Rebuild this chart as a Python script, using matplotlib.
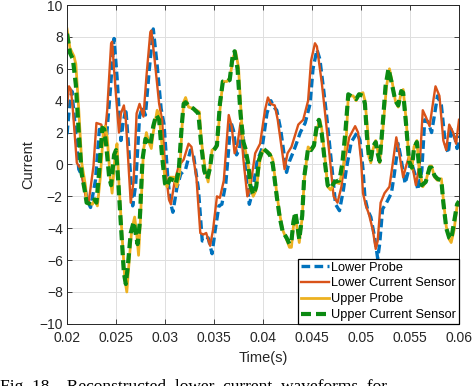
import matplotlib
matplotlib.use("Agg")
import matplotlib.pyplot as plt

# --- data (time in s, current) ---

t_lower_probe = [0.0200, 0.0203, 0.0205, 0.0208, 0.0212, 0.0216, 0.0221, 0.0224, 0.0229, 0.0233,
                 0.0237, 0.0240, 0.0244, 0.0248, 0.0251, 0.0255, 0.0257, 0.0260, 0.0263, 0.0267,
                 0.0270, 0.0274, 0.0277, 0.0280, 0.0284, 0.0288, 0.0292, 0.0296, 0.0299, 0.0303,
                 0.0306, 0.0308, 0.0312, 0.0316, 0.0321, 0.0326, 0.0329, 0.0334, 0.0338, 0.0341,
                 0.0344, 0.0348, 0.0351, 0.0355, 0.0358, 0.0362, 0.0365, 0.0367, 0.0370, 0.0373,
                 0.0376, 0.0379, 0.0382, 0.0386, 0.0389, 0.0394, 0.0399, 0.0404, 0.0408, 0.0411,
                 0.0414, 0.0418, 0.0424, 0.0427, 0.0431, 0.0434, 0.0438, 0.0443, 0.0448, 0.0451,
                 0.0455, 0.0458, 0.0462, 0.0465, 0.0470, 0.0474, 0.0478, 0.0482, 0.0485, 0.0490,
                 0.0496, 0.0499, 0.0502, 0.0504, 0.0507, 0.0510, 0.0514, 0.0517, 0.0519, 0.0522,
                 0.0526, 0.0531, 0.0534, 0.0538, 0.0541, 0.0545, 0.0548, 0.0551, 0.0555, 0.0558,
                 0.0562, 0.0565, 0.0568, 0.0572, 0.0576, 0.0578, 0.0582, 0.0586, 0.0589, 0.0592,
                 0.0596, 0.0598, 0.0600]
lower_probe = [1.9, 4.0, 4.6, 2.6, -0.3, -0.8, -2.3, -2.7, -1.0, 2.2,
               2.0, 1.5, 4.5, 7.9, 5.5, 1.5, 2.5, 3.5, 1.0, -2.6,
               -1.3, 3.0, 3.6, 3.1, 6.0, 8.5, 6.2, 3.5, 2.5, -1.0,
               -2.5, -3.0, -1.5, -0.6, -0.3, 0.9, 0.6, -1.5, -4.8, -4.8,
               -4.6, -5.6, -4.2, -2.6, -2.5, -1.2, 1.0, 2.7, 2.1, 0.6,
               1.0, 2.2, -0.3, -2.5, -1.8, 0.2, 1.0, 3.2, 4.0, 3.6,
               3.4, 2.2, -0.5, 0.2, 0.8, 1.3, 2.0, 2.6, 3.8, 6.0,
               7.2, 6.6, 4.6, 3.0, 0.0, -2.5, -2.9, -1.6, -0.3, 1.4,
               2.0, 1.5, -0.3, -2.1, -2.9, -3.3, -4.6, -5.9, -5.0, -2.8,
               -2.4, -1.8, -0.6, 1.3, 0.3, -1.2, -0.5, 0.2, -0.6, -1.6,
               -0.4, 2.8, 2.7, 2.0, 3.5, 4.3, 3.7, 1.3, 0.7, 2.2,
               1.6, 1.0, 1.8]

t_lower_sensor = [0.0200, 0.0202, 0.0204, 0.0206, 0.0210, 0.0214, 0.0219, 0.0222, 0.0227, 0.0230,
                  0.0235, 0.0238, 0.0241, 0.0245, 0.0246, 0.0249, 0.0253, 0.0255, 0.0258, 0.0260,
                  0.0265, 0.0268, 0.0271, 0.0274, 0.0278, 0.0281, 0.0285, 0.0286, 0.0289, 0.0294,
                  0.0297, 0.0300, 0.0304, 0.0306, 0.0310, 0.0314, 0.0319, 0.0324, 0.0327, 0.0332,
                  0.0336, 0.0339, 0.0342, 0.0346, 0.0349, 0.0353, 0.0356, 0.0360, 0.0363, 0.0365,
                  0.0368, 0.0371, 0.0374, 0.0377, 0.0380, 0.0384, 0.0387, 0.0392, 0.0397, 0.0402,
                  0.0405, 0.0408, 0.0412, 0.0415, 0.0422, 0.0425, 0.0429, 0.0432, 0.0436, 0.0441,
                  0.0446, 0.0449, 0.0453, 0.0455, 0.0460, 0.0463, 0.0468, 0.0472, 0.0476, 0.0480,
                  0.0483, 0.0488, 0.0494, 0.0497, 0.0500, 0.0502, 0.0505, 0.0508, 0.0512, 0.0515,
                  0.0517, 0.0520, 0.0524, 0.0529, 0.0532, 0.0536, 0.0539, 0.0543, 0.0546, 0.0549,
                  0.0553, 0.0556, 0.0560, 0.0563, 0.0566, 0.0570, 0.0574, 0.0576, 0.0580, 0.0584,
                  0.0587, 0.0590, 0.0594, 0.0597, 0.0600]
lower_sensor = [3.6, 4.9, 4.7, 3.4, 0.1, -0.3, -2.0, -2.4, -0.1, 2.6,
                2.5, 1.5, 3.4, 7.6, 7.7, 5.1, 2.0, 3.2, 3.7, 2.8,
                -2.4, -1.0, 3.2, 3.8, 3.0, 5.5, 8.3, 8.4, 6.8, 3.8,
                2.8, -0.1, -2.2, -2.5, -1.0, -0.1, 0.3, 1.3, 1.1, -0.8,
                -4.3, -4.4, -4.3, -5.1, -4.1, -2.0, -2.1, -1.0, 1.5, 3.1,
                2.4, 0.7, 1.3, 2.6, 0.3, -2.0, -1.4, 0.7, 1.3, 3.4,
                4.2, 3.8, 3.7, 2.8, -0.3, 0.7, 1.1, 1.7, 2.5, 2.8,
                4.0, 6.5, 7.6, 7.4, 5.1, 3.4, 0.5, -2.0, -2.4, -1.4,
                0.1, 1.7, 2.4, 2.0, 0.3, -1.8, -2.6, -3.1, -4.1, -5.3,
                -4.8, -2.4, -1.8, -1.4, -0.1, 1.7, 0.7, -0.8, -0.1, 0.5,
                -0.3, -1.3, 0.1, 3.4, 3.0, 2.4, 4.1, 4.9, 4.3, 1.5,
                0.9, 2.5, 2.0, 1.3, 2.8]

t_upper_probe = [0.0200, 0.0203, 0.0207, 0.0209, 0.0212, 0.0215, 0.0219, 0.0220, 0.0226, 0.0228,
                 0.0231, 0.0234, 0.0237, 0.0239, 0.0241, 0.0244, 0.0246, 0.0249, 0.0251, 0.0253,
                 0.0256, 0.0259, 0.0261, 0.0263, 0.0266, 0.0269, 0.0271, 0.0273, 0.0275, 0.0278,
                 0.0281, 0.0283, 0.0286, 0.0288, 0.0292, 0.0294, 0.0297, 0.0300, 0.0302, 0.0305,
                 0.0309, 0.0312, 0.0315, 0.0317, 0.0319, 0.0321, 0.0324, 0.0329, 0.0335, 0.0337,
                 0.0341, 0.0344, 0.0346, 0.0348, 0.0351, 0.0353, 0.0356, 0.0359, 0.0363, 0.0366,
                 0.0370, 0.0372, 0.0375, 0.0378, 0.0380, 0.0382, 0.0385, 0.0387, 0.0390, 0.0393,
                 0.0397, 0.0400, 0.0404, 0.0407, 0.0410, 0.0414, 0.0417, 0.0420, 0.0424, 0.0427,
                 0.0429, 0.0431, 0.0433, 0.0436, 0.0437, 0.0440, 0.0442, 0.0446, 0.0449, 0.0452,
                 0.0455, 0.0458, 0.0460, 0.0463, 0.0466, 0.0469, 0.0473, 0.0478, 0.0482, 0.0485,
                 0.0487, 0.0492, 0.0495, 0.0498, 0.0502, 0.0504, 0.0507, 0.0508, 0.0510, 0.0512,
                 0.0515, 0.0517, 0.0519, 0.0522, 0.0526, 0.0529, 0.0532, 0.0535, 0.0538, 0.0541,
                 0.0543, 0.0546, 0.0549, 0.0552, 0.0554, 0.0557, 0.0559, 0.0563, 0.0566, 0.0570,
                 0.0572, 0.0575, 0.0578, 0.0582, 0.0584, 0.0587, 0.0590, 0.0592, 0.0595, 0.0598,
                 0.0600]
upper_probe = [8.5, 7.3, 6.8, 6.3, 3.4, 0.1, -1.4, -2.4, -2.5, -2.2,
               -2.6, -0.8, 2.0, 2.4, 1.7, -0.8, -1.8, 0.5, 1.3, -1.2,
               -4.3, -7.2, -8.0, -6.4, -4.1, -3.3, -4.3, -5.7, -3.3, 0.9,
               2.0, 1.5, 1.0, 2.0, 3.4, 3.1, 1.1, -1.0, -1.4, -0.8,
               -0.8, -1.4, -0.6, 2.0, 3.9, 4.2, 3.6, 3.5, 3.3, 1.5,
               -0.3, -1.1, -0.1, 0.9, 1.0, 1.1, 3.4, 5.2, 5.2, 5.4,
               6.8, 7.1, 6.1, 2.8, 1.3, 0.9, -0.1, -1.4, -2.0, -1.6,
               0.3, 0.9, 0.8, 0.7, 0.3, -1.8, -3.1, -4.1, -4.7, -5.2,
               -5.2, -3.9, -3.3, -4.5, -4.9, -3.3, -1.0, 1.1, 0.9, 1.1,
               2.2, 2.8, 2.2, 0.5, -1.4, -1.6, -1.1, -1.2, -0.1, 1.7,
               4.3, 4.3, 4.0, 4.4, 4.5, 4.0, 2.0, 0.5, 0.1, 0.9,
               1.5, 0.9, 0.1, 2.0, 4.9, 6.0, 5.1, 4.0, 3.6, 4.5,
               4.7, 2.8, 0.3, -0.3, 1.1, 1.5, -0.1, -1.4, -1.1, -0.1,
               -0.1, -0.8, -1.0, -0.9, -2.2, -3.9, -4.7, -4.9, -4.1, -2.6,
               -2.4]

t_upper_sensor = [0.0200, 0.0203, 0.0206, 0.0209, 0.0212, 0.0215, 0.0218, 0.0220, 0.0225, 0.0228,
                  0.0230, 0.0233, 0.0236, 0.0238, 0.0240, 0.0243, 0.0245, 0.0248, 0.0250, 0.0252,
                  0.0255, 0.0258, 0.0260, 0.0262, 0.0265, 0.0268, 0.0270, 0.0272, 0.0274, 0.0277,
                  0.0280, 0.0283, 0.0285, 0.0288, 0.0291, 0.0294, 0.0297, 0.0300, 0.0302, 0.0305,
                  0.0309, 0.0311, 0.0314, 0.0317, 0.0319, 0.0321, 0.0324, 0.0329, 0.0334, 0.0337,
                  0.0340, 0.0343, 0.0346, 0.0348, 0.0351, 0.0353, 0.0356, 0.0359, 0.0363, 0.0366,
                  0.0369, 0.0371, 0.0374, 0.0377, 0.0380, 0.0382, 0.0385, 0.0387, 0.0390, 0.0393,
                  0.0396, 0.0400, 0.0404, 0.0407, 0.0410, 0.0414, 0.0417, 0.0420, 0.0424, 0.0427,
                  0.0429, 0.0431, 0.0433, 0.0435, 0.0437, 0.0440, 0.0442, 0.0446, 0.0449, 0.0452,
                  0.0455, 0.0457, 0.0460, 0.0463, 0.0466, 0.0469, 0.0473, 0.0478, 0.0481, 0.0484,
                  0.0487, 0.0492, 0.0495, 0.0498, 0.0502, 0.0504, 0.0506, 0.0508, 0.0510, 0.0512,
                  0.0515, 0.0517, 0.0519, 0.0522, 0.0525, 0.0528, 0.0531, 0.0535, 0.0538, 0.0541,
                  0.0543, 0.0546, 0.0549, 0.0552, 0.0554, 0.0557, 0.0559, 0.0562, 0.0566, 0.0570,
                  0.0572, 0.0575, 0.0578, 0.0582, 0.0584, 0.0587, 0.0590, 0.0592, 0.0595, 0.0598,
                  0.0600]
upper_sensor = [8.2, 7.0, 6.6, 5.0, 2.0, -0.6, -1.6, -2.4, -2.5, -2.2,
                -2.4, -0.3, 2.3, 2.2, 1.2, -0.8, -1.3, 0.6, 0.9, -0.8,
                -3.8, -6.8, -7.5, -6.4, -4.3, -3.6, -4.3, -5.0, -3.8, 0.3,
                1.6, 1.4, 1.2, 2.4, 3.1, 2.8, 0.5, -1.2, -1.4, -0.9,
                -1.0, -1.2, -0.4, 2.4, 3.8, 3.9, 3.7, 3.5, 3.2, 1.2,
                -0.4, -0.9, -0.2, 0.8, 1.0, 1.2, 3.8, 5.2, 5.2, 5.3,
                6.8, 7.1, 6.0, 3.2, 1.4, 1.0, 0.0, -1.3, -1.9, -1.4,
                0.3, 1.0, 0.8, 0.6, 0.0, -2.0, -3.3, -4.2, -4.6, -5.0,
                -4.8, -3.6, -3.0, -3.8, -4.7, -3.2, -0.8, 1.0, 0.9, 1.2,
                2.5, 2.8, 1.9, 0.2, -1.3, -1.5, -1.1, -1.0, 0.1, 2.0,
                4.4, 4.2, 4.1, 4.4, 4.3, 3.8, 1.8, 0.5, 0.3, 1.1,
                1.4, 0.7, 0.2, 2.4, 4.9, 6.0, 5.2, 4.0, 3.7, 4.6,
                4.5, 2.5, 0.2, -0.2, 1.0, 1.4, 0.0, -1.3, -1.1, -0.2,
                -0.2, -0.7, -0.9, -1.0, -2.4, -4.0, -4.6, -4.7, -3.6, -2.5,
                -2.3]

x_ticks = [0.02, 0.025, 0.03, 0.035, 0.04, 0.045, 0.05, 0.055, 0.06]
x_ticklabels = ["0.02", "0.025", "0.03", "0.035", "0.04", "0.045", "0.05", "0.055", "0.06"]
y_ticks = list(range(-10, 11, 2))

# MATLAB default colours
c_blue = "#0072BD"
c_orange = "#D95319"
c_yellow = "#EDB120"
c_green = "#0B8A12"


def main():
    plt.rcParams["font.family"] = ["Liberation Sans", "DejaVu Sans"]
    plt.rcParams["font.size"] = 10

    fig = plt.figure(figsize=(4.74, 3.86), dpi=100)
    ax = fig.add_axes([0.1414, 0.161, 0.827, 0.826])

    # same drawing order as the legend
    ax.plot(t_lower_probe, lower_probe, color=c_blue, lw=2.4, dashes=(2.6, 1.3),
            label="Lower Probe")
    ax.plot(t_lower_sensor, lower_sensor, color=c_orange, lw=1.7,
            label="Lower Current Sensor")
    ax.plot(t_upper_probe, upper_probe, color=c_yellow, lw=2.0,
            label="Upper Probe")
    ax.plot(t_upper_sensor, upper_sensor, color=c_green, lw=3.0, dashes=(2.4, 1.2),
            label="Upper Current Sensor")

    ax.set_xlim(0.02, 0.06)
    ax.set_ylim(-10, 10)
    ax.set_xticks(x_ticks)
    ax.set_xticklabels(x_ticklabels)
    ax.set_yticks(y_ticks)

    ax.grid(True, color="#dedede", lw=0.7)
    ax.set_axisbelow(True)
    ax.tick_params(direction="in", length=3.5, width=0.6, top=True, right=True,
                   colors="#262626", labelcolor="#262626")
    ax.tick_params(axis="x", pad=5.5)
    ax.tick_params(axis="y", pad=3)
    for sp in ax.spines.values():
        sp.set_color("#262626")
        sp.set_linewidth(0.7)

    ax.set_xlabel("Time(s)", labelpad=4, color="#262626", fontsize=10.5)
    ax.set_ylabel("Current", labelpad=3, color="#262626", fontsize=10.5)

    leg = ax.legend(loc="lower right", borderaxespad=0, fancybox=False, framealpha=1,
                    edgecolor="black", handlelength=2.2, handletextpad=0.15,
                    labelspacing=0.3, borderpad=0.22, fontsize=9.2)
    leg.get_frame().set_linewidth(0.9)

    # caption of the page, cut off by the picture border
    fig.text(0.0, -0.012, "Fig. 18.   Reconstructed  lower  current  waveforms  for",
             family=["Liberation Serif", "DejaVu Serif"], fontsize=12.5, va="baseline")

    fig.savefig("out.png", dpi=100)


if __name__ == "__main__":
    main()
